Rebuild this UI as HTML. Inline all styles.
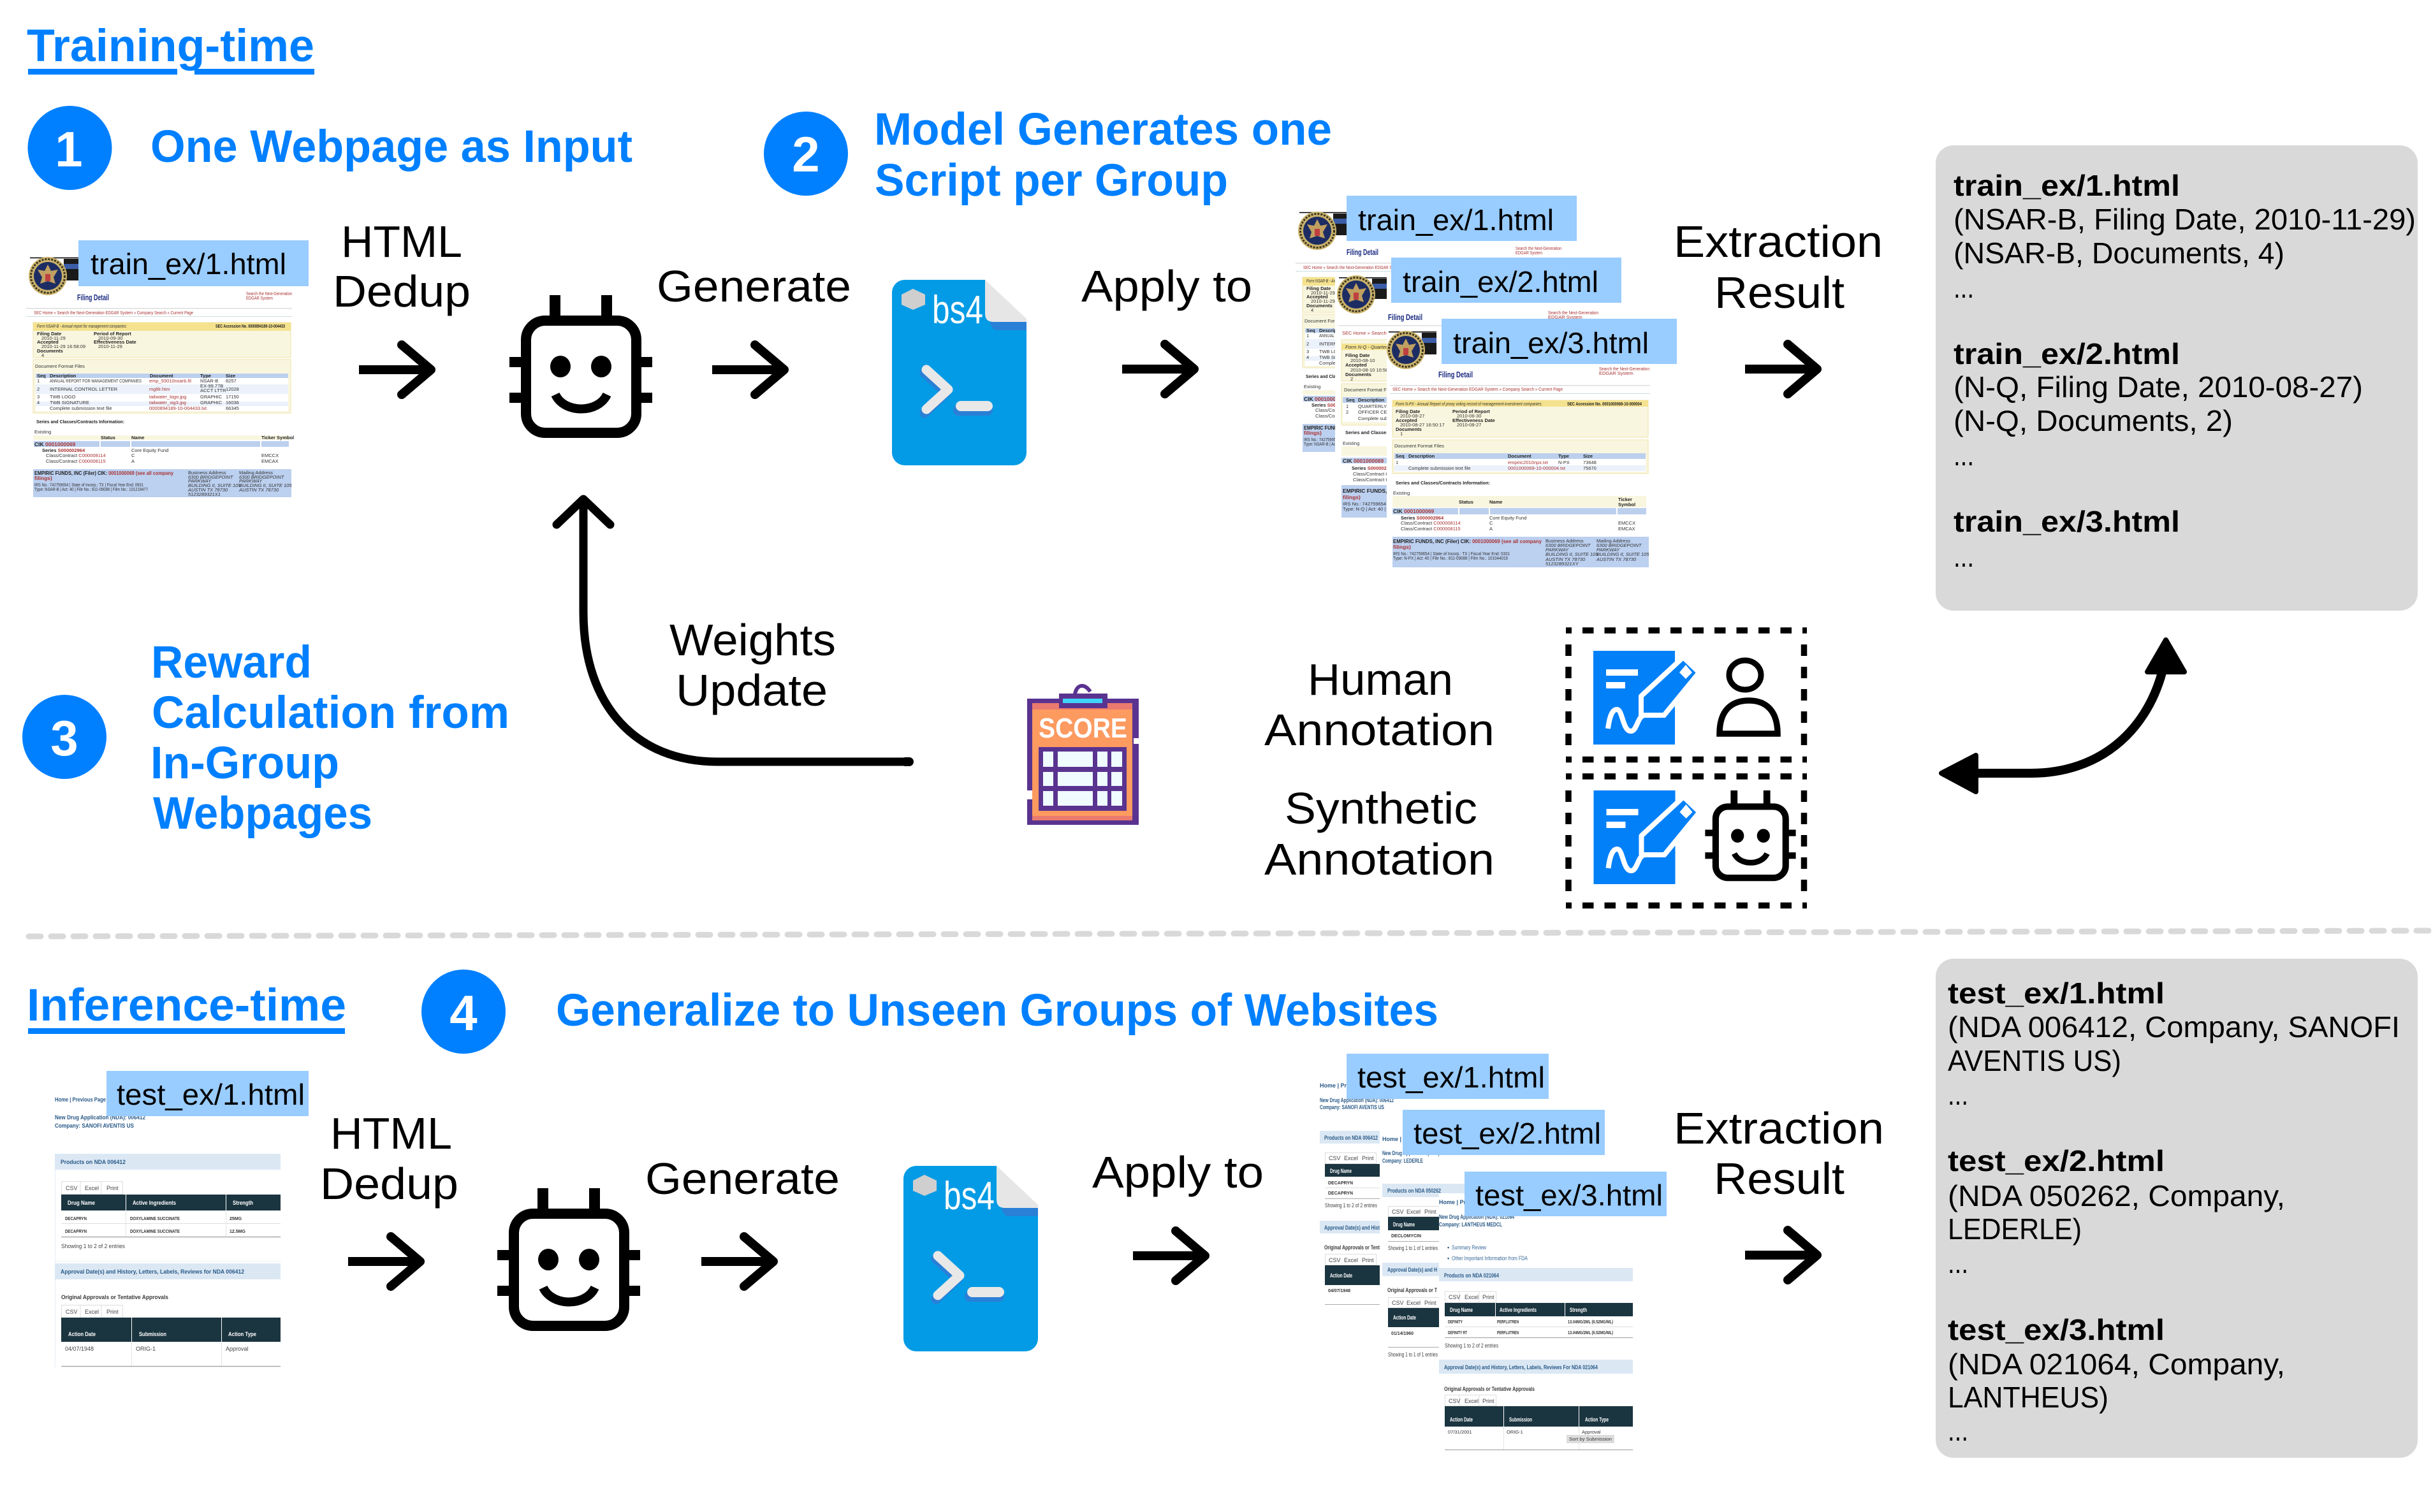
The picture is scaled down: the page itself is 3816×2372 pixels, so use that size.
<!DOCTYPE html>
<html><head><meta charset="utf-8"><style>
html,body{margin:0;padding:0;background:#fff}
svg{display:block}
text{font-family:"Liberation Sans",sans-serif}
.h{font-size:71px;font-weight:700;fill:#0080ff}
.b{font-size:70px;fill:#000}
.l{font-size:46px;fill:#000}
.r{font-size:46px;fill:#000}
.rb{font-size:46px;font-weight:700;fill:#000}
.d{font-size:78px;font-weight:700;fill:#fff;text-anchor:middle}
.s{font-size:7.500px;fill:#333}
.sb{font-size:7.500px;font-weight:700;fill:#222}
.ri{font-size:7.500px;fill:#a33}
.f{font-size:13px;font-weight:700;fill:#1a2a80}
.t{font-size:8.500px;font-weight:700;fill:#222}
.tr{font-size:8.500px;font-weight:700;fill:#a33}
.n{font-size:9px;fill:#444}
.nb{font-size:9px;font-weight:700;fill:#2a5a88}
.w{font-size:9px;font-weight:700;fill:#fff}
.k{font-size:7px;font-weight:700;fill:#333}
</style></head><body>
<svg width="3816" height="2372" viewBox="0 0 3816 2372" xmlns="http://www.w3.org/2000/svg">
<defs>
<g id="arr"><path d="M0 0H113" stroke="#000" stroke-width="14" fill="none"/><path d="M67 -39L113 0L67 39" stroke="#000" stroke-width="14" fill="none" stroke-linecap="round" stroke-linejoin="round"/></g>
<g id="robot">
<rect x="825" y="503" width="173" height="176" rx="30" fill="none" stroke="#000" stroke-width="16"/>
<rect x="862" y="463" width="17" height="36" /><rect x="943" y="463" width="17" height="36"/>
<rect x="799" y="560" width="20" height="16"/><rect x="799" y="616" width="20" height="16"/>
<rect x="1004" y="560" width="19" height="16"/><rect x="1004" y="616" width="19" height="16"/>
<ellipse cx="879" cy="575" rx="16" ry="17"/><ellipse cx="943" cy="575" rx="16" ry="17"/>
<path d="M871 619C885 649 938 649 952 619" fill="none" stroke="#000" stroke-width="14"/>
</g>
<g id="bs4">
<path d="M1419 439H1545L1610 505V710a20 20 0 0 1 -20 20H1419a20 20 0 0 1 -20 -20V459a20 20 0 0 1 20 -20Z" fill="#039be5"/>
<path d="M1553 505H1610V518H1565Q1555 518 1553 505Z" fill="#2a7fd6"/>
<path d="M1545 439L1610 500V505H1558Q1545 505 1545 492Z" fill="#e6e6e6"/>
<polygon points="1432,453 1451,462 1451,478 1432,486 1414,478 1414,462" fill="#cfcfcf"/>
<text x="1462" y="507" font-size="62" fill="#fff" textLength="80" lengthAdjust="spacingAndGlyphs">bs4</text>
<path d="M1450 585L1484 616L1450 648" fill="none" stroke="#2a7fd6" stroke-width="15" stroke-linecap="round" stroke-linejoin="round"/>
<path d="M1453 580L1487 611L1453 642" fill="none" stroke="#e8e8e8" stroke-width="15" stroke-linecap="round" stroke-linejoin="round"/>
<rect x="1495" y="635" width="62" height="17" rx="8" fill="#2a7fd6"/>
<rect x="1499" y="629" width="58" height="16" rx="8" fill="#e8e8e8"/>
</g>
<g id="seal">
<circle cx="75" cy="433" r="30" fill="#c9b26a"/><circle cx="75" cy="433" r="26.500" fill="none" stroke="#3a3320" stroke-width="3" stroke-dasharray="3 2"/><circle cx="75" cy="433" r="22" fill="#1d2d63"/>
<path d="M75 415l5 10 11 -2 -7 12 3 10 -12 -4 -12 4 3 -10 -7 -12 11 2Z" fill="#c0a060"/><rect x="71" y="430" width="8" height="11" fill="#c04040"/>
</g>
<g id="annot">
<rect x="2499" y="1021" width="128" height="147" fill="#0280f8"/>
<rect x="2519" y="1050" width="50" height="10" fill="#fff"/><rect x="2519" y="1070" width="30" height="10" fill="#fff"/>
<polygon points="2574,1092 2640,1031 2665,1055 2610,1122 2574,1122" fill="#0280f8" stroke="#fff" stroke-width="8" stroke-linejoin="round"/>
<polygon points="2644,1043 2654,1055 2644,1065 2634,1055" fill="#fff"/>
<path d="M2522 1143C2525 1120 2530 1113 2536 1113C2545 1113 2545 1147 2558 1147C2568 1147 2568 1122 2580 1122L2612 1122" fill="none" stroke="#fff" stroke-width="8"/>
</g>
<g id="secA">
<path d="M47 404.500H123" stroke="#000" stroke-width="1.500"/><rect x="100" y="406" width="23" height="34" fill="#1a1a1a"/><rect x="100" y="414" width="23" height="8" fill="#3c5ea8"/>
<use href="#seal"/>
<text class="f" x="121" y="471" textLength="50" lengthAdjust="spacingAndGlyphs">Filing Detail</text>
<text class="ri" x="386" y="463" textLength="72" lengthAdjust="spacingAndGlyphs">Search the Next-Generation</text>
<text class="ri" x="386" y="470" textLength="42" lengthAdjust="spacingAndGlyphs">EDGAR System</text>
<rect x="41" y="483" width="417" height="1.500" fill="#ddd"/><rect x="41" y="496" width="417" height="1" fill="#cdd"/>
<text class="ri" x="53" y="493" textLength="250" lengthAdjust="spacingAndGlyphs">SEC Home » Search the Next-Generation EDGAR System » Company Search » Current Page</text>
<rect x="52" y="506" width="404" height="55" fill="#f9f6df" stroke="#eee3a8"/><rect x="52" y="506" width="404" height="13" fill="#f5e28e"/>
<text class="s" font-style="italic" x="58" y="514" textLength="141" lengthAdjust="spacingAndGlyphs">Form NSAR-B - Annual report for management companies:</text>
<text class="sb" x="338" y="514" textLength="109" lengthAdjust="spacingAndGlyphs">SEC Accession No. 0000894189-10-004433</text>
<text class="sb" x="58" y="526">Filing Date</text><text class="sb" x="147" y="526">Period of Report</text>
<text class="s" x="65" y="533">2010-11-29</text><text class="s" x="154" y="533">2010-09-30</text>
<text class="sb" x="58" y="539">Accepted</text><text class="sb" x="147" y="539">Effectiveness Date</text>
<text class="s" x="65" y="546">2010-11-29 16:58:09</text><text class="s" x="154" y="546">2010-11-29</text>
<text class="sb" x="58" y="553">Documents</text><text class="s" x="65" y="560">4</text>
<rect x="52" y="564" width="404" height="84" fill="#f9f6df" stroke="#eee3a8"/>
<text class="s" x="55" y="577">Document Format Files</text>
<rect x="56" y="586" width="396" height="7" fill="#bcd0ee"/><rect x="56" y="593" width="396" height="52" fill="#fff"/><rect x="56" y="603" width="396" height="15" fill="#ecf2fb"/><rect x="56" y="630" width="396" height="7" fill="#ecf2fb"/>
<text class="sb" x="58" y="592">Seq</text><text class="sb" x="78" y="592">Description</text><text class="sb" x="235" y="592">Document</text><text class="sb" x="314" y="592">Type</text><text class="sb" x="354" y="592">Size</text>
<text class="s" x="58" y="600">1</text><text class="s" x="78" y="600" textLength="144" lengthAdjust="spacingAndGlyphs">ANNUAL REPORT FOR MANAGEMENT COMPANIES</text><text class="ri" x="234" y="600">emp_93010nsarb.fil</text><text class="s" x="314" y="600">NSAR-B</text><text class="s" x="354" y="600">8257</text>
<text class="s" x="58" y="613">2</text><text class="s" x="78" y="613">INTERNAL CONTROL LETTER</text><text class="ri" x="234" y="613">mgltlr.htm</text><text class="s" x="314" y="608">EX-99.77B</text><text class="s" x="314" y="615">ACCT LTTR</text><text class="s" x="354" y="613">12028</text>
<text class="s" x="58" y="625">3</text><text class="s" x="78" y="625">TWB LOGO</text><text class="ri" x="234" y="625">tailwater_logo.jpg</text><text class="s" x="314" y="625">GRAPHIC</text><text class="s" x="354" y="625">17150</text>
<text class="s" x="58" y="634">4</text><text class="s" x="78" y="634">TWB SIGNATURE</text><text class="ri" x="234" y="634">tailwater_sig3.jpg</text><text class="s" x="314" y="634">GRAPHIC</text><text class="s" x="354" y="634">16036</text>
<text class="s" x="78" y="643">Complete submission text file</text><text class="ri" x="234" y="643">0000894189-10-004433.txt</text><text class="s" x="354" y="643">66345</text>
<text class="sb" x="57" y="664" textLength="138" lengthAdjust="spacingAndGlyphs">Series and Classes/Contracts Information:</text>
<text class="s" x="54" y="680">Existing</text>
<rect x="52" y="683" width="402" height="7" fill="#f9f6df"/>
<text class="sb" x="158" y="689">Status</text><text class="sb" x="206" y="689">Name</text><text class="sb" x="410" y="689">Ticker Symbol</text>
<rect x="53" y="692" width="103" height="9" fill="#bcd0ee"/><rect x="158" y="692" width="46" height="9" fill="#bcd0ee"/><rect x="206" y="692" width="202" height="9" fill="#bcd0ee"/><rect x="410" y="692" width="43" height="9" fill="#bcd0ee"/>
<text class="t" x="54" y="700">CIK <tspan fill="#a33">0001000069</tspan></text>
<text class="sb" x="66" y="709">Series <tspan fill="#a33">S000002964</tspan></text><text class="s" x="206" y="709">Core Equity Fund</text>
<text class="s" x="72" y="717">Class/Contract <tspan fill="#a33">C000008114</tspan></text><text class="s" x="206" y="717">C</text><text class="s" x="410" y="717">EMCCX</text>
<text class="s" x="72" y="726">Class/Contract <tspan fill="#a33">C000008115</tspan></text><text class="s" x="206" y="726">A</text><text class="s" x="410" y="726">EMCAX</text>
<rect x="52" y="736" width="405" height="44" fill="#bcd0f0"/>
<text class="t" x="54" y="745" textLength="218" lengthAdjust="spacingAndGlyphs">EMPIRIC FUNDS, INC (Filer) CIK: <tspan fill="#a33">0001000069 (see all company</tspan></text>
<text class="tr" x="54" y="753">filings)</text>
<text class="s" x="54" y="763" textLength="171" lengthAdjust="spacingAndGlyphs">IRS No.: 742759654 | State of Incorp.: TX | Fiscal Year End: 0931</text>
<text class="s" x="54" y="770" textLength="178" lengthAdjust="spacingAndGlyphs">Type: NSAR-B | Act: 40 | File No.: 811-09088 | Film No.: 101219477</text>
<text class="s" x="295" y="744">Business Address</text><text class="s" font-style="italic" x="295" y="751">6300 BRIDGEPOINT</text><text class="s" font-style="italic" x="295" y="757">PARKWAY</text><text class="s" font-style="italic" x="295" y="764">BUILDING II, SUITE 105</text><text class="s" font-style="italic" x="295" y="771">AUSTIN TX 78730</text><text class="s" font-style="italic" x="295" y="778">5123289321X1</text>
<text class="s" x="375" y="744">Mailing Address</text><text class="s" font-style="italic" x="375" y="751">6300 BRIDGEPOINT</text><text class="s" font-style="italic" x="375" y="757">PARKWAY</text><text class="s" font-style="italic" x="375" y="764">BUILDING II, SUITE 105</text><text class="s" font-style="italic" x="375" y="771">AUSTIN TX 78730</text>
</g>
</defs>

<!-- headings -->
<text class="h" x="42" y="96" textLength="451" lengthAdjust="spacingAndGlyphs">Training-time</text>
<rect x="44" y="108" width="234" height="9" fill="#0080ff"/><rect x="305" y="108" width="188" height="9" fill="#0080ff"/>
<circle cx="109.500" cy="232" r="66" fill="#0080ff"/><text class="d" x="108" y="261">1</text>
<text class="h" x="236" y="254" textLength="756" lengthAdjust="spacingAndGlyphs">One Webpage as Input</text>
<circle cx="1264" cy="241" r="66" fill="#0080ff"/><text class="d" x="1264" y="269">2</text>
<text class="h" x="1371" y="227" textLength="718" lengthAdjust="spacingAndGlyphs">Model Generates one</text>
<text class="h" x="1372" y="307" textLength="554" lengthAdjust="spacingAndGlyphs">Script per Group</text>

<!-- row 1 -->
<use href="#secA"/>
<rect x="123" y="377" width="361" height="72" fill="#99ccff"/>
<text class="l" x="142" y="430" textLength="307" lengthAdjust="spacingAndGlyphs">train_ex/1.html</text>
<text class="b" x="535" y="403" textLength="190" lengthAdjust="spacingAndGlyphs">HTML</text>
<text class="b" x="522" y="481" textLength="216" lengthAdjust="spacingAndGlyphs">Dedup</text>
<use href="#arr" transform="translate(563,580)"/>
<use href="#robot"/>
<text class="b" x="1030" y="473" textLength="305" lengthAdjust="spacingAndGlyphs">Generate</text>
<use href="#arr" transform="translate(1117,580)"/>
<use href="#bs4"/>
<text class="b" x="1696" y="473" textLength="268" lengthAdjust="spacingAndGlyphs">Apply to</text>
<use href="#arr" transform="translate(1760,579)"/>

<!-- stacked SEC docs -->
<use href="#secA" transform="translate(1991,-71)"/>
<rect x="2094" y="431" width="450" height="382" fill="#fff"/>
<g transform="translate(2052,29)"><rect x="48" y="406" width="75" height="1.500" fill="#000"/><rect x="100" y="408" width="23" height="32" fill="#1a1a1a"/><rect x="100" y="416" width="23" height="8" fill="#3c5ea8"/><use href="#seal"/></g>
<text class="f" x="2177" y="502" textLength="54" lengthAdjust="spacingAndGlyphs">Filing Detail</text>
<text class="ri" x="2428" y="493" textLength="79" lengthAdjust="spacingAndGlyphs">Search the Next-Generation</text>
<text class="ri" x="2428" y="500">EDGAR System</text>
<rect x="2100" y="510" width="440" height="1.500" fill="#ddd"/>
<text class="ri" x="2105" y="525">SEC Home » Search th</text>
<rect x="2104" y="533" width="75" height="65" fill="#f9f6df" stroke="#eee3a8"/><rect x="2104" y="539" width="75" height="10" fill="#f5e28e"/>
<text class="s" font-style="italic" x="2110" y="547">Form N-Q - Quarterly Sc</text>
<text class="sb" x="2110" y="560">Filing Date</text><text class="s" x="2118" y="568">2010-08-10</text><text class="sb" x="2110" y="575">Accepted</text><text class="s" x="2118" y="583">2010-08-10 10:58:25</text><text class="sb" x="2110" y="590">Documents</text><text class="s" x="2118" y="597">2</text>
<rect x="2104" y="602" width="75" height="65" fill="#f9f6df" stroke="#eee3a8"/>
<text class="s" x="2108" y="614">Document Format Files</text>
<rect x="2106" y="623" width="73" height="9" fill="#bcd0ee"/><rect x="2106" y="632" width="73" height="30" fill="#fff"/>
<text class="sb" x="2111" y="630">Seq</text><text class="sb" x="2130" y="630">Description</text>
<text class="s" x="2111" y="640">1</text><text class="s" x="2130" y="640">QUARTERLY N</text><text class="s" x="2111" y="649">2</text><text class="s" x="2130" y="649">OFFICER CER</text><text class="s" x="2130" y="659">Complete subm</text>
<text class="sb" x="2110" y="681">Series and Classes</text><text class="s" x="2106" y="698">Existing</text>
<rect x="2104" y="700" width="75" height="15" fill="#f9f6df"/><rect x="2104" y="718" width="75" height="9" fill="#bcd0ee"/>
<text class="t" x="2106" y="726">CIK <tspan fill="#a33">0001000069</tspan></text>
<text class="sb" x="2120" y="737">Series <tspan fill="#a33">S000002964</tspan></text>
<text class="s" x="2122" y="746">Class/Contract C000008114</text><text class="s" x="2122" y="755">Class/Contract C000008115</text>
<rect x="2104" y="761" width="75" height="51" fill="#bcd0f0"/>
<text class="t" x="2106" y="773">EMPIRIC FUNDS, INC</text><text class="tr" x="2106" y="783">filings)</text><text class="s" x="2106" y="793">IRS No.: 742759654 | State</text><text class="s" x="2106" y="801">Type: N-Q | Act: 40 | File</text>
<!-- doc 3 -->
<rect x="2175" y="518" width="418" height="374" fill="#fff"/>
<g transform="translate(2130,116)"><rect x="48" y="404" width="75" height="1.500" fill="#000"/><rect x="100" y="406" width="23" height="34" fill="#1a1a1a"/><rect x="100" y="414" width="23" height="8" fill="#3c5ea8"/><use href="#seal"/></g>
<text class="f" x="2256" y="592" textLength="54" lengthAdjust="spacingAndGlyphs">Filing Detail</text>
<text class="ri" x="2508" y="581" textLength="79" lengthAdjust="spacingAndGlyphs">Search the Next-Generation</text>
<text class="ri" x="2508" y="588">EDGAR System</text>
<rect x="2180" y="604" width="408" height="1.500" fill="#ddd"/><rect x="2180" y="617" width="408" height="1" fill="#cdd"/>
<text class="ri" x="2184" y="613" textLength="267" lengthAdjust="spacingAndGlyphs">SEC Home » Search the Next-Generation EDGAR System » Company Search » Current Page</text>
<rect x="2184" y="628" width="401" height="58" fill="#f9f6df" stroke="#eee3a8"/><rect x="2184" y="628" width="401" height="10" fill="#f5e28e"/>
<text class="s" font-style="italic" x="2189" y="636" textLength="230" lengthAdjust="spacingAndGlyphs">Form N-PX - Annual Report of proxy voting record of management investment companies:</text>
<text class="sb" x="2458" y="636" textLength="117" lengthAdjust="spacingAndGlyphs">SEC Accession No. 0001000069-10-000004</text>
<text class="sb" x="2189" y="648">Filing Date</text><text class="sb" x="2278" y="648">Period of Report</text>
<text class="s" x="2196" y="655">2010-08-27</text><text class="s" x="2285" y="655">2010-06-30</text>
<text class="sb" x="2189" y="662">Accepted</text><text class="sb" x="2278" y="662">Effectiveness Date</text>
<text class="s" x="2196" y="669">2010-08-27 16:50:17</text><text class="s" x="2285" y="669">2010-08-27</text>
<text class="sb" x="2189" y="676">Documents</text><text class="s" x="2196" y="683">1</text>
<rect x="2184" y="690" width="401" height="53" fill="#f9f6df" stroke="#eee3a8"/>
<text class="s" x="2187" y="702">Document Format Files</text>
<rect x="2187" y="711" width="394" height="9" fill="#bcd0ee"/><rect x="2187" y="720" width="394" height="20" fill="#fff"/><rect x="2187" y="730" width="394" height="9" fill="#ecf2fb"/>
<text class="sb" x="2189" y="718">Seq</text><text class="sb" x="2209" y="718">Description</text><text class="sb" x="2365" y="718">Document</text><text class="sb" x="2444" y="718">Type</text><text class="sb" x="2483" y="718">Size</text>
<text class="s" x="2189" y="728">1</text><text class="ri" x="2365" y="728">empiric2010npx.txt</text><text class="s" x="2444" y="728">N-PX</text><text class="s" x="2483" y="728">73648</text>
<text class="s" x="2209" y="737">Complete submission text file</text><text class="ri" x="2365" y="737">0001000069-10-000004.txt</text><text class="s" x="2483" y="737">75670</text>
<text class="sb" x="2189" y="760" textLength="148" lengthAdjust="spacingAndGlyphs">Series and Classes/Contracts Information:</text>
<text class="s" x="2185" y="776">Existing</text>
<rect x="2184" y="778" width="398" height="18" fill="#f9f6df"/>
<text class="sb" x="2288" y="790">Status</text><text class="sb" x="2336" y="790">Name</text><text class="sb" x="2538" y="786">Ticker</text><text class="sb" x="2538" y="794">Symbol</text>
<rect x="2184" y="797" width="103" height="10" fill="#bcd0ee"/><rect x="2289" y="797" width="46" height="10" fill="#bcd0ee"/><rect x="2337" y="797" width="198" height="10" fill="#bcd0ee"/><rect x="2537" y="797" width="45" height="10" fill="#bcd0ee"/>
<text class="t" x="2185" y="805">CIK <tspan fill="#a33">0001000069</tspan></text>
<text class="sb" x="2197" y="815">Series <tspan fill="#a33">S000002964</tspan></text><text class="s" x="2336" y="815">Core Equity Fund</text>
<text class="s" x="2197" y="823">Class/Contract <tspan fill="#a33">C000008114</tspan></text><text class="s" x="2336" y="823">C</text><text class="s" x="2538" y="823">EMCCX</text>
<text class="s" x="2197" y="832">Class/Contract <tspan fill="#a33">C000008115</tspan></text><text class="s" x="2336" y="832">A</text><text class="s" x="2538" y="832">EMCAX</text>
<rect x="2184" y="842" width="402" height="48" fill="#bcd0f0"/>
<text class="t" x="2185" y="852" textLength="233" lengthAdjust="spacingAndGlyphs">EMPIRIC FUNDS, INC (Filer) CIK: <tspan fill="#a33">0001000069 (see all company</tspan></text>
<text class="tr" x="2185" y="861">filings)</text>
<text class="s" x="2185" y="871" textLength="183" lengthAdjust="spacingAndGlyphs">IRS No.: 742759654 | State of Incorp.: TX | Fiscal Year End: 0331</text>
<text class="s" x="2185" y="878" textLength="180" lengthAdjust="spacingAndGlyphs">Type: N-PX | Act: 40 | File No.: 811-09088 | Film No.: 101044016</text>
<text class="s" x="2424" y="851">Business Address</text><text class="s" font-style="italic" x="2424" y="858">6300 BRIDGEPOINT</text><text class="s" font-style="italic" x="2424" y="865">PARKWAY</text><text class="s" font-style="italic" x="2424" y="872">BUILDING II, SUITE 105</text><text class="s" font-style="italic" x="2424" y="880">AUSTIN TX 78730</text><text class="s" font-style="italic" x="2424" y="887">5123289321XY</text>
<text class="s" x="2504" y="851">Mailing Address</text><text class="s" font-style="italic" x="2504" y="858">6300 BRIDGEPOINT</text><text class="s" font-style="italic" x="2504" y="865">PARKWAY</text><text class="s" font-style="italic" x="2504" y="872">BUILDING II, SUITE 105</text><text class="s" font-style="italic" x="2504" y="880">AUSTIN TX 78730</text>
<!-- labels -->
<rect x="2112" y="307" width="361" height="71" fill="#99ccff"/><text class="l" x="2130" y="361" textLength="307" lengthAdjust="spacingAndGlyphs">train_ex/1.html</text>
<rect x="2182" y="404" width="361" height="71" fill="#99ccff"/><text class="l" x="2200" y="458" textLength="307" lengthAdjust="spacingAndGlyphs">train_ex/2.html</text>
<rect x="2261" y="500" width="369" height="71" fill="#99ccff"/><text class="l" x="2279" y="554" textLength="307" lengthAdjust="spacingAndGlyphs">train_ex/3.html</text>

<text class="b" x="2625" y="403" textLength="328" lengthAdjust="spacingAndGlyphs">Extraction</text>
<text class="b" x="2689" y="483" textLength="204" lengthAdjust="spacingAndGlyphs">Result</text>
<use href="#arr" transform="translate(2737,579)"/>

<!-- result box 1 -->
<rect x="3036" y="228" width="756" height="730" rx="28" fill="#d9d9d9"/>
<text class="rb" x="3064" y="307" textLength="355" lengthAdjust="spacingAndGlyphs">train_ex/1.html</text>
<text class="r" x="3064" y="360" textLength="725" lengthAdjust="spacingAndGlyphs">(NSAR-B, Filing Date, 2010-11-29)</text>
<text class="r" x="3064" y="413" textLength="519" lengthAdjust="spacingAndGlyphs">(NSAR-B, Documents, 4)</text>
<text class="r" x="3064" y="467" textLength="32" lengthAdjust="spacingAndGlyphs">...</text>
<text class="rb" x="3064" y="571" textLength="355" lengthAdjust="spacingAndGlyphs">train_ex/2.html</text>
<text class="r" x="3064" y="623" textLength="642" lengthAdjust="spacingAndGlyphs">(N-Q, Filing Date, 2010-08-27)</text>
<text class="r" x="3064" y="676" textLength="438" lengthAdjust="spacingAndGlyphs">(N-Q, Documents, 2)</text>
<text class="r" x="3064" y="730" textLength="32" lengthAdjust="spacingAndGlyphs">...</text>
<text class="rb" x="3064" y="834" textLength="355" lengthAdjust="spacingAndGlyphs">train_ex/3.html</text>
<text class="r" x="3064" y="889" textLength="32" lengthAdjust="spacingAndGlyphs">...</text>

<!-- double arrow -->
<path d="M3095 1213H3186C3290 1213 3365 1150 3391 1055" fill="none" stroke="#000" stroke-width="14"/>
<polygon points="3045,1213 3099,1185 3099,1242" stroke="#000" stroke-width="8" stroke-linejoin="round"/>
<polygon points="3397,1004 3368,1054 3426,1054" stroke="#000" stroke-width="8" stroke-linejoin="round"/>

<!-- loop arrow -->
<path d="M1426 1195H1125C1000 1195 915 1110 915 960V784" fill="none" stroke="#000" stroke-width="13"/>
<path d="M1420 1195H1426" stroke="#000" stroke-width="14" stroke-linecap="round"/>
<path d="M873 823L915 783L957 823" fill="none" stroke="#000" stroke-width="13" stroke-linecap="round" stroke-linejoin="round"/>
<text class="b" x="1050" y="1028" textLength="261" lengthAdjust="spacingAndGlyphs">Weights</text>
<text class="b" x="1060" y="1107" textLength="238" lengthAdjust="spacingAndGlyphs">Update</text>

<circle cx="101" cy="1156" r="66" fill="#0080ff"/><text class="d" x="101" y="1185">3</text>
<text class="h" x="237" y="1063" textLength="252" lengthAdjust="spacingAndGlyphs">Reward</text>
<text class="h" x="238" y="1142" textLength="561" lengthAdjust="spacingAndGlyphs">Calculation from</text>
<text class="h" x="236" y="1221" textLength="296" lengthAdjust="spacingAndGlyphs">In-Group</text>
<text class="h" x="240" y="1300" textLength="344" lengthAdjust="spacingAndGlyphs">Webpages</text>

<!-- score -->
<path d="M1686 1089C1688 1075 1700 1070 1710 1085" fill="none" stroke="#5a3390" stroke-width="6"/>
<rect x="1611" y="1096" width="175" height="198" fill="#5a3390"/>
<rect x="1619" y="1103" width="157" height="184" fill="#ea7a6e"/>
<rect x="1619" y="1113" width="157" height="167" fill="#fd9a60"/>
<rect x="1661" y="1088" width="76" height="23" fill="#5a3390"/>
<rect x="1667" y="1096" width="62" height="7" fill="#3fd4f8"/>
<text x="1629" y="1157" font-size="44" font-weight="700" fill="#fff" textLength="139" lengthAdjust="spacingAndGlyphs">SCORE</text>
<rect x="1629" y="1172" width="138" height="100" fill="#5a3390"/>
<g fill="#effbff">
<rect x="1636" y="1179" width="16" height="24"/><rect x="1659" y="1179" width="55" height="24"/><rect x="1721" y="1179" width="16" height="24"/><rect x="1743" y="1179" width="17" height="24"/>
<rect x="1636" y="1211" width="16" height="22"/><rect x="1659" y="1211" width="55" height="22"/><rect x="1721" y="1211" width="16" height="22"/><rect x="1743" y="1211" width="17" height="22"/>
<rect x="1636" y="1241" width="16" height="23"/><rect x="1659" y="1241" width="55" height="23"/><rect x="1721" y="1241" width="16" height="23"/><rect x="1743" y="1241" width="17" height="23"/>
</g>
<rect x="1778" y="1158" width="8" height="9" fill="#fff"/><rect x="1611" y="1240" width="8" height="14" fill="#fff"/>

<!-- annotation -->
<text class="b" x="2051" y="1090" textLength="228" lengthAdjust="spacingAndGlyphs">Human</text>
<text class="b" x="1983" y="1169" textLength="361" lengthAdjust="spacingAndGlyphs">Annotation</text>
<text class="b" x="2015" y="1292" textLength="302" lengthAdjust="spacingAndGlyphs">Synthetic</text>
<text class="b" x="1983" y="1372" textLength="361" lengthAdjust="spacingAndGlyphs">Annotation</text>
<g fill="none" stroke="#000" stroke-width="9.500">
<path d="M2456 989H2834M2456 1191.500H2834M2456 1218H2834M2456 1420.500H2834" stroke-dasharray="17.500 17" stroke-dashoffset="8.500"/>
<path d="M2460 1011V1170M2829.500 1011V1170M2460 1240V1399M2829.500 1240V1399" stroke-dasharray="18 17"/>
</g>
<use href="#annot"/>
<use href="#annot" transform="translate(0.500,219)"/>
<ellipse cx="2737" cy="1059" rx="25" ry="23" fill="none" stroke="#000" stroke-width="9"/>
<path d="M2697 1151C2697 1115 2715 1099 2743 1099C2770 1099 2788 1115 2788 1151Z" fill="none" stroke="#000" stroke-width="9.500" stroke-linejoin="miter"/>
<use href="#robot" transform="translate(2167,946) scale(0.635,0.635)"/>

<!-- separator -->
<path d="M45 1469L3816 1460" stroke="#d9d9d9" stroke-width="9" fill="none" stroke-linecap="round" stroke-dasharray="19 16"/>

<!-- inference -->
<text class="h" x="42" y="1601" textLength="501" lengthAdjust="spacingAndGlyphs">Inference-time</text>
<rect x="44" y="1613" width="497" height="9" fill="#0080ff"/>
<circle cx="727" cy="1587" r="66" fill="#0080ff"/><text class="d" x="727" y="1616">4</text>
<text class="h" x="872" y="1609" textLength="1384" lengthAdjust="spacingAndGlyphs">Generalize to Unseen Groups of Websites</text>

<!-- test doc A -->
<text class="nb" fill="#1a2a66" x="86" y="1728" textLength="80" lengthAdjust="spacingAndGlyphs">Home | Previous Page</text>
<text class="nb" x="86" y="1756" textLength="142" lengthAdjust="spacingAndGlyphs">New Drug Application (NDA): 006412</text>
<text class="nb" x="86" y="1769" textLength="124" lengthAdjust="spacingAndGlyphs">Company: SANOFI AVENTIS US</text>
<rect x="86" y="1810" width="354" height="25" fill="#dbe8f4"/>
<path d="M86.500 1835V1982M86.500 2007V2145" stroke="#e8eef4" fill="none"/>
<path d="M86 1979H440" stroke="#e8eef4"/>
<text class="nb" x="95" y="1826" textLength="102" lengthAdjust="spacingAndGlyphs">Products on NDA 006412</text>
<rect x="96.500" y="1853.500" width="96" height="20" fill="#fff" stroke="#ddd"/><path d="M126 1854V1874M159 1854V1874" stroke="#ddd"/>
<text class="n" x="103" y="1867">CSV</text><text class="n" x="133" y="1867">Excel</text><text class="n" x="167" y="1867">Print</text>
<rect x="96" y="1874" width="344" height="25" fill="#1b3540"/><path d="M197.500 1874V1899M354.500 1874V1899" stroke="#fff"/>
<text class="w" x="106" y="1890" textLength="43" lengthAdjust="spacingAndGlyphs">Drug Name</text><text class="w" x="208" y="1890" textLength="68" lengthAdjust="spacingAndGlyphs">Active Ingredients</text><text class="w" x="365" y="1890" textLength="32" lengthAdjust="spacingAndGlyphs">Strength</text>
<path d="M96 1919.500H440" stroke="#ddd"/><path d="M96 1940.500H440" stroke="#aaa" stroke-width="1.500"/><path d="M197.500 1899V1940M354.500 1899V1940" stroke="#e4e4e4"/>
<text class="k" x="102" y="1914" textLength="34" lengthAdjust="spacingAndGlyphs">DECAPRYN</text><text class="k" x="204" y="1914" textLength="78" lengthAdjust="spacingAndGlyphs">DOXYLAMINE SUCCINATE</text><text class="k" x="360" y="1914">25MG</text>
<text class="k" x="102" y="1934" textLength="34" lengthAdjust="spacingAndGlyphs">DECAPRYN</text><text class="k" x="204" y="1934" textLength="78" lengthAdjust="spacingAndGlyphs">DOXYLAMINE SUCCINATE</text><text class="k" x="360" y="1934">12.5MG</text>
<text class="n" x="96" y="1958" textLength="100" lengthAdjust="spacingAndGlyphs">Showing 1 to 2 of 2 entries</text>
<rect x="86" y="1982" width="354" height="25" fill="#dbe8f4"/>
<text class="nb" x="95" y="1998" textLength="288" lengthAdjust="spacingAndGlyphs">Approval Date(s) and History, Letters, Labels, Reviews for NDA 006412</text>
<text class="nb" style="fill:#3a3a3a" x="96" y="2038" textLength="168" lengthAdjust="spacingAndGlyphs">Original Approvals or Tentative Approvals</text>
<rect x="96.500" y="2047.500" width="96" height="20" fill="#fff" stroke="#ddd"/><path d="M126 2048V2067M159 2048V2067" stroke="#ddd"/>
<text class="n" x="103" y="2061">CSV</text><text class="n" x="133" y="2061">Excel</text><text class="n" x="167" y="2061">Print</text>
<rect x="96" y="2067" width="344" height="38" fill="#1b3540"/><path d="M206.500 2067V2105M347.500 2067V2105" stroke="#fff"/>
<text class="w" x="107" y="2096" textLength="43" lengthAdjust="spacingAndGlyphs">Action Date</text><text class="w" x="218" y="2096" textLength="43" lengthAdjust="spacingAndGlyphs">Submission</text><text class="w" x="358" y="2096" textLength="44" lengthAdjust="spacingAndGlyphs">Action Type</text>
<path d="M206.500 2105V2143M347.500 2105V2143" stroke="#e4e4e4"/><path d="M96 2143.500H440" stroke="#aaa" stroke-width="1.500"/>
<text class="n" x="102" y="2119">04/07/1948</text><text class="n" x="213" y="2119">ORIG-1</text><text class="n" x="354" y="2119">Approval</text>
<rect x="167" y="1680" width="317" height="71" fill="#99ccff"/>
<text class="l" x="183" y="1733" textLength="295" lengthAdjust="spacingAndGlyphs">test_ex/1.html</text>

<text class="b" x="518" y="1802" textLength="191" lengthAdjust="spacingAndGlyphs">HTML</text>
<text class="b" x="502" y="1881" textLength="217" lengthAdjust="spacingAndGlyphs">Dedup</text>
<use href="#arr" transform="translate(546,1979)"/>
<use href="#robot" transform="translate(-19,1401)"/>
<text class="b" x="1012" y="1873" textLength="305" lengthAdjust="spacingAndGlyphs">Generate</text>
<use href="#arr" transform="translate(1100,1979)"/>
<use href="#bs4" transform="translate(18,1390)"/>
<text class="b" x="1713" y="1863" textLength="269" lengthAdjust="spacingAndGlyphs">Apply to</text>
<use href="#arr" transform="translate(1777,1970)"/>

<!-- test stack doc1 -->
<text class="nb" fill="#1a2a66" x="2070" y="1706">Home | Previous Page</text>
<text class="nb" x="2070" y="1729" textLength="116" lengthAdjust="spacingAndGlyphs">New Drug Application (NDA): 006412</text>
<text class="nb" x="2070" y="1740" textLength="101" lengthAdjust="spacingAndGlyphs">Company: SANOFI AVENTIS US</text>
<rect x="2070" y="1774" width="94" height="20" fill="#dbe8f4"/>
<text class="nb" x="2077" y="1788" textLength="84" lengthAdjust="spacingAndGlyphs">Products on NDA 006412</text>
<rect x="2078.500" y="1808.500" width="80" height="17" fill="#fff" stroke="#ddd"/>
<text class="n" x="2084" y="1820">CSV</text><text class="n" x="2108" y="1820">Excel</text><text class="n" x="2136" y="1820">Print</text>
<rect x="2078" y="1826" width="86" height="20" fill="#1b3540"/><text class="w" x="2086" y="1840" textLength="34" lengthAdjust="spacingAndGlyphs">Drug Name</text>
<text class="k" x="2083" y="1858">DECAPRYN</text><path d="M2078 1863.500H2164" stroke="#ddd"/><text class="k" x="2083" y="1874">DECAPRYN</text><path d="M2078 1880.500H2164" stroke="#aaa"/>
<text class="n" x="2078" y="1894" textLength="82" lengthAdjust="spacingAndGlyphs">Showing 1 to 2 of 2 entries</text>
<rect x="2070" y="1915" width="94" height="20" fill="#dbe8f4"/><text class="nb" x="2077" y="1929" textLength="87" lengthAdjust="spacingAndGlyphs">Approval Date(s) and Hist</text>
<text class="nb" style="fill:#3a3a3a" x="2077" y="1960" textLength="87" lengthAdjust="spacingAndGlyphs">Original Approvals or Tent</text>
<rect x="2078.500" y="1967.500" width="80" height="17" fill="#fff" stroke="#ddd"/>
<text class="n" x="2084" y="1980">CSV</text><text class="n" x="2108" y="1980">Excel</text><text class="n" x="2136" y="1980">Print</text>
<rect x="2078" y="1985" width="86" height="31" fill="#1b3540"/><text class="w" x="2086" y="2004" textLength="35" lengthAdjust="spacingAndGlyphs">Action Date</text>
<text class="k" x="2083" y="2027">04/07/1948</text><path d="M2078 2046.500H2164" stroke="#aaa"/>

<!-- test stack doc2 -->
<rect x="2168" y="1775" width="89" height="362" fill="#fff"/>
<text class="nb" fill="#1a2a66" x="2168" y="1790">Home | Pr</text>
<text class="nb" x="2168" y="1812" textLength="116" lengthAdjust="spacingAndGlyphs">New Drug Application (NDA): 050262</text>
<text class="nb" x="2168" y="1824" textLength="64" lengthAdjust="spacingAndGlyphs">Company: LEDERLE</text>
<rect x="2168" y="1857" width="129" height="21" fill="#dbe8f4"/>
<text class="nb" x="2176" y="1871" textLength="84" lengthAdjust="spacingAndGlyphs">Products on NDA 050262</text>
<rect x="2177.500" y="1892.500" width="80" height="16" fill="#fff" stroke="#ddd"/>
<text class="n" x="2183" y="1904">CSV</text><text class="n" x="2206" y="1904">Excel</text><text class="n" x="2234" y="1904">Print</text>
<rect x="2177" y="1909" width="80" height="21" fill="#1b3540"/><text class="w" x="2185" y="1924" textLength="34" lengthAdjust="spacingAndGlyphs">Drug Name</text>
<text class="k" x="2182" y="1941">DECLOMYCIN</text><path d="M2177 1947.500H2257" stroke="#aaa"/>
<text class="n" x="2177" y="1961" textLength="78" lengthAdjust="spacingAndGlyphs">Showing 1 to 1 of 1 entries</text>
<rect x="2168" y="1981" width="89" height="21" fill="#dbe8f4"/><text class="nb" x="2176" y="1995" textLength="78" lengthAdjust="spacingAndGlyphs">Approval Date(s) and H</text>
<text class="nb" style="fill:#3a3a3a" x="2176" y="2027" textLength="78" lengthAdjust="spacingAndGlyphs">Original Approvals or T</text>
<rect x="2177.500" y="2035.500" width="80" height="16" fill="#fff" stroke="#ddd"/>
<text class="n" x="2183" y="2047">CSV</text><text class="n" x="2206" y="2047">Excel</text><text class="n" x="2234" y="2047">Print</text>
<rect x="2177" y="2052" width="80" height="30" fill="#1b3540"/><text class="w" x="2185" y="2070" textLength="36" lengthAdjust="spacingAndGlyphs">Action Date</text>
<text class="k" x="2182" y="2094">01/14/1960</text><path d="M2177 2113.500H2257" stroke="#aaa"/>
<text class="n" x="2177" y="2128" textLength="78" lengthAdjust="spacingAndGlyphs">Showing 1 to 1 of 1 entries</text>

<!-- test stack doc3 -->
<rect x="2257" y="1872" width="304" height="408" fill="#fff"/>
<text class="nb" fill="#1a2a66" x="2257" y="1889">Home | Prev</text>
<text class="nb" x="2257" y="1912" textLength="118" lengthAdjust="spacingAndGlyphs">New Drug Application (NDA): 021064</text>
<text class="nb" x="2257" y="1924" textLength="99" lengthAdjust="spacingAndGlyphs">Company: LANTHEUS MEDCL</text>
<text class="nb" x="2270" y="1960">•</text><text class="n" style="fill:#3a6a9a" x="2277" y="1960" textLength="54" lengthAdjust="spacingAndGlyphs">Summary Review</text>
<text class="nb" x="2270" y="1977">•</text><text class="n" style="fill:#3a6a9a" x="2277" y="1977" textLength="119" lengthAdjust="spacingAndGlyphs">Other Important Information from FDA</text>
<rect x="2257" y="1989" width="304" height="21" fill="#dbe8f4"/>
<text class="nb" x="2265" y="2004" textLength="86" lengthAdjust="spacingAndGlyphs">Products on NDA 021064</text>
<rect x="2266.500" y="2026" width="80" height="17.500" fill="#fff" stroke="#ddd"/><path d="M2289 2026V2043M2320 2026V2043" stroke="#ddd"/>
<text class="n" x="2272" y="2038">CSV</text><text class="n" x="2297" y="2038">Excel</text><text class="n" x="2325" y="2038">Print</text>
<rect x="2266" y="2044" width="295" height="21" fill="#1b3540"/><path d="M2345.500 2044V2065M2454.500 2044V2065" stroke="#fff"/>
<text class="w" x="2274" y="2058" textLength="36" lengthAdjust="spacingAndGlyphs">Drug Name</text><text class="w" x="2352" y="2058" textLength="58" lengthAdjust="spacingAndGlyphs">Active Ingredients</text><text class="w" x="2462" y="2058" textLength="27" lengthAdjust="spacingAndGlyphs">Strength</text>
<path d="M2266 2081.500H2561" stroke="#ddd"/><path d="M2266 2098.500H2561" stroke="#aaa" stroke-width="1.200"/>
<text class="k" x="2271" y="2076" textLength="23" lengthAdjust="spacingAndGlyphs">DEFINITY</text><text class="k" x="2348" y="2076" textLength="34" lengthAdjust="spacingAndGlyphs">PERFLUTREN</text><text class="k" x="2459" y="2076" textLength="71" lengthAdjust="spacingAndGlyphs">13.04MG/2ML (6.52MG/ML)</text>
<text class="k" x="2271" y="2093" textLength="30" lengthAdjust="spacingAndGlyphs">DEFINITY RT</text><text class="k" x="2348" y="2093" textLength="34" lengthAdjust="spacingAndGlyphs">PERFLUTREN</text><text class="k" x="2459" y="2093" textLength="71" lengthAdjust="spacingAndGlyphs">13.04MG/2ML (6.52MG/ML)</text>
<text class="n" x="2266" y="2114" textLength="84" lengthAdjust="spacingAndGlyphs">Showing 1 to 2 of 2 entries</text>
<rect x="2257" y="2133" width="304" height="22" fill="#dbe8f4"/>
<text class="nb" x="2265" y="2148" textLength="241" lengthAdjust="spacingAndGlyphs">Approval Date(s) and History, Letters, Labels, Reviews For NDA 021064</text>
<text class="nb" style="fill:#3a3a3a" x="2265" y="2182" textLength="142" lengthAdjust="spacingAndGlyphs">Original Approvals or Tentative Approvals</text>
<rect x="2266.500" y="2188.500" width="80" height="17" fill="#fff" stroke="#ddd"/><path d="M2289 2189V2205M2320 2189V2205" stroke="#ddd"/>
<text class="n" x="2272" y="2201">CSV</text><text class="n" x="2297" y="2201">Excel</text><text class="n" x="2325" y="2201">Print</text>
<rect x="2266" y="2206" width="295" height="32" fill="#1b3540"/><path d="M2358.500 2206V2238M2476.500 2206V2238" stroke="#fff"/>
<text class="w" x="2274" y="2230" textLength="36" lengthAdjust="spacingAndGlyphs">Action Date</text><text class="w" x="2367" y="2230" textLength="36" lengthAdjust="spacingAndGlyphs">Submission</text><text class="w" x="2486" y="2230" textLength="37" lengthAdjust="spacingAndGlyphs">Action Type</text>
<path d="M2358.500 2238V2274M2476.500 2238V2274" stroke="#e4e4e4"/><path d="M2266 2274.500H2561" stroke="#aaa" stroke-width="1.200"/>
<text class="s" x="2271" y="2249">07/31/2001</text><text class="s" x="2363" y="2249">ORIG-1</text><text class="s" x="2481" y="2249">Approval</text>
<rect x="2457" y="2251" width="75" height="13" fill="#ddd"/><text class="s" x="2461" y="2260" textLength="67" lengthAdjust="spacingAndGlyphs">Sort by Submission</text>

<rect x="2112" y="1653" width="317" height="71" fill="#99ccff"/><text class="l" x="2129" y="1706" textLength="294" lengthAdjust="spacingAndGlyphs">test_ex/1.html</text>
<rect x="2200" y="1741" width="317" height="71" fill="#99ccff"/><text class="l" x="2217" y="1794" textLength="294" lengthAdjust="spacingAndGlyphs">test_ex/2.html</text>
<rect x="2297" y="1838" width="317" height="70" fill="#99ccff"/><text class="l" x="2314" y="1891" textLength="294" lengthAdjust="spacingAndGlyphs">test_ex/3.html</text>

<text class="b" x="2625" y="1794" textLength="330" lengthAdjust="spacingAndGlyphs">Extraction</text>
<text class="b" x="2688" y="1873" textLength="205" lengthAdjust="spacingAndGlyphs">Result</text>
<use href="#arr" transform="translate(2737,1969)"/>

<!-- result box 2 -->
<rect x="3036" y="1504" width="756" height="783" rx="28" fill="#d9d9d9"/>
<text class="rb" x="3055" y="1574" textLength="340" lengthAdjust="spacingAndGlyphs">test_ex/1.html</text>
<text class="r" x="3055" y="1627" textLength="709" lengthAdjust="spacingAndGlyphs">(NDA 006412, Company, SANOFI</text>
<text class="r" x="3055" y="1680" textLength="272" lengthAdjust="spacingAndGlyphs">AVENTIS US)</text>
<text class="r" x="3055" y="1733" textLength="32" lengthAdjust="spacingAndGlyphs">...</text>
<text class="rb" x="3055" y="1837" textLength="340" lengthAdjust="spacingAndGlyphs">test_ex/2.html</text>
<text class="r" x="3055" y="1892" textLength="529" lengthAdjust="spacingAndGlyphs">(NDA 050262, Company,</text>
<text class="r" x="3055" y="1944" textLength="210" lengthAdjust="spacingAndGlyphs">LEDERLE)</text>
<text class="r" x="3055" y="1997" textLength="32" lengthAdjust="spacingAndGlyphs">...</text>
<text class="rb" x="3055" y="2102" textLength="340" lengthAdjust="spacingAndGlyphs">test_ex/3.html</text>
<text class="r" x="3055" y="2156" textLength="529" lengthAdjust="spacingAndGlyphs">(NDA 021064, Company,</text>
<text class="r" x="3055" y="2208" textLength="252" lengthAdjust="spacingAndGlyphs">LANTHEUS)</text>
<text class="r" x="3055" y="2260" textLength="32" lengthAdjust="spacingAndGlyphs">...</text>
</svg>
</body></html>
